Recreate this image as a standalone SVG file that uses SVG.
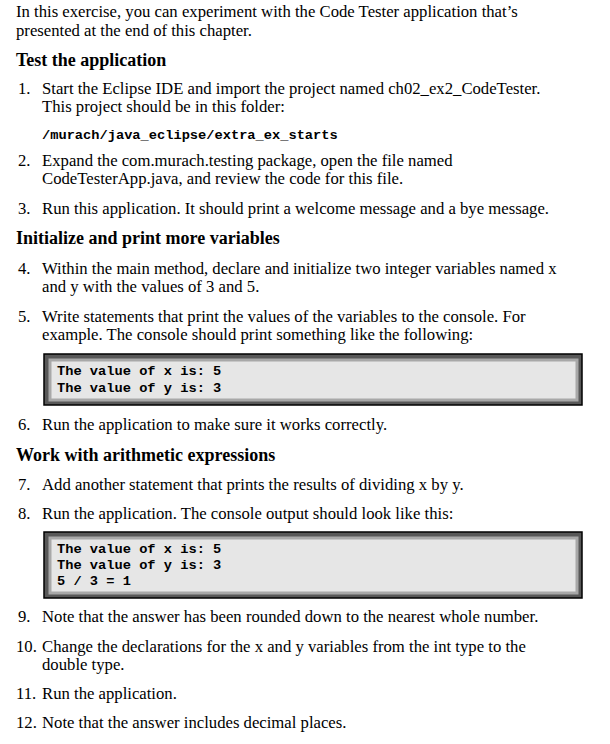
<svg xmlns="http://www.w3.org/2000/svg" width="610" height="744" viewBox="0 0 610 744">
<style>
.t{font-family:"Liberation Serif",serif;font-size:16.7px;fill:#000}
.h{font-family:"Liberation Serif",serif;font-size:18px;font-weight:bold;fill:#000}
.m{font-family:"Liberation Mono",monospace;font-size:13.7px;font-weight:bold;fill:#000}
.o{fill:#585858;stroke:#000;stroke-width:1.5}
.i{fill:#e6e6e6;stroke:#a8a8a8;stroke-width:3}
</style>
<rect width="610" height="744" fill="#fff"/>
<text class="t" x="16" y="17">In this exercise, you can experiment with the Code Tester application that’s</text>
<text class="t" x="16" y="36">presented at the end of this chapter.</text>
<text class="h" x="16" y="66">Test the application</text>
<text class="t" x="18" y="94">1.</text><text class="t" x="42" y="94">Start the Eclipse IDE and import the project named ch02_ex2_CodeTester.</text>
<text class="t" x="42" y="112">This project should be in this folder:</text>
<text class="m" x="42" y="139">/murach/java_eclipse/extra_ex_starts</text>
<text class="t" x="18" y="166">2.</text><text class="t" x="42" y="166">Expand the com.murach.testing package, open the file named</text>
<text class="t" x="42" y="184">CodeTesterApp.java, and review the code for this file.</text>
<text class="t" x="18" y="214">3.</text><text class="t" x="42" y="214">Run this application. It should print a welcome message and a bye message.</text>
<text class="h" x="16" y="244">Initialize and print more variables</text>
<text class="t" x="18" y="274">4.</text><text class="t" x="42" y="274">Within the main method, declare and initialize two integer variables named x</text>
<text class="t" x="42" y="292">and y with the values of 3 and 5.</text>
<text class="t" x="18" y="322">5.</text><text class="t" x="42" y="322">Write statements that print the values of the variables to the console. For</text>
<text class="t" x="42" y="340">example. The console should print something like the following:</text>
<g id="console1">
<rect class="o" x="44" y="354" width="538" height="51"/>
<rect class="i" x="50" y="360" width="527" height="40"/>
<text class="m" x="57" y="375">The value of x is: 5</text>
<text class="m" x="57" y="392">The value of y is: 3</text>
</g>
<text class="t" x="18" y="430">6.</text><text class="t" x="42" y="430">Run the application to make sure it works correctly.</text>
<text class="h" x="16" y="461">Work with arithmetic expressions</text>
<text class="t" x="18" y="490">7.</text><text class="t" x="42" y="490">Add another statement that prints the results of dividing x by y.</text>
<text class="t" x="18" y="519">8.</text><text class="t" x="42" y="519">Run the application. The console output should look like this:</text>
<g id="console2">
<rect class="o" x="44" y="532" width="538" height="66"/>
<rect class="i" x="50" y="538" width="527" height="55"/>
<text class="m" x="57" y="553">The value of x is: 5</text>
<text class="m" x="57" y="569">The value of y is: 3</text>
<text class="m" x="57" y="585">5 / 3 = 1</text>
</g>
<text class="t" x="18" y="622">9.</text><text class="t" x="42" y="622">Note that the answer has been rounded down to the nearest whole number.</text>
<text class="t" x="16" y="652">10.</text><text class="t" x="42" y="652">Change the declarations for the x and y variables from the int type to the</text>
<text class="t" x="42" y="670">double type.</text>
<text class="t" x="16" y="699">11.</text><text class="t" x="42" y="699">Run the application.</text>
<text class="t" x="16" y="728">12.</text><text class="t" x="42" y="728">Note that the answer includes decimal places.</text>
</svg>
